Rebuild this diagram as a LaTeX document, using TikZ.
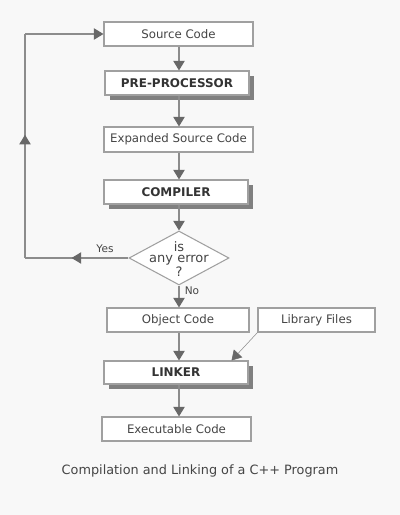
\documentclass[tikz,border=0pt]{standalone}
\usepackage{fontspec}
\setmainfont{DejaVu Sans}
\usetikzlibrary{arrows.meta,shapes.geometric,shadows,decorations.markings}
\definecolor{bgcol}{HTML}{F8F8F8}
\definecolor{edgecol}{HTML}{A0A0A0}
\definecolor{linecol}{HTML}{8C8C8C}
\definecolor{arrcol}{HTML}{686868}
\definecolor{txtcol}{HTML}{454545}
\definecolor{shdcol}{HTML}{808080}
\tikzset{
	box/.style={draw=edgecol, fill=white, line width=0.6pt, minimum width=2.98cm, minimum height=0.48cm, inner sep=0pt, text=txtcol, font=\fontsize{6.7}{8}\selectfont},
	stage/.style={box, minimum width=2.88cm, text=black!80, font=\fontsize{6.8}{8}\selectfont\bfseries, drop shadow={shadow xshift=0.1cm, shadow yshift=-0.1cm, fill=shdcol, opacity=1}},
	decision/.style={diamond, draw=edgecol, fill=white, line width=0.6pt, minimum width=2cm, minimum height=1.08cm, inner sep=0pt},
	flow/.style={draw=linecol, line width=0.6pt, -{Triangle[width=6.5pt,length=5.5pt,color=arrcol]}},
	midflow/.style={draw=linecol, line width=0.6pt, postaction={decorate}, decoration={markings, mark=at position 0.55 with {\arrow{Triangle[width=6.5pt,length=5.5pt,color=arrcol]}}}},
	note/.style={text=txtcol, font=\fontsize{6}{7}\selectfont},
}
\begin{document}
\begin{tikzpicture}
			%%%%% START %%%%%
			
			\fill[bgcol] (0, 0) rectangle (8, 10.3);
			\useasboundingbox (0, 0) rectangle (8, 10.3);
			
			\node[box] (src) at (3.57, 9.62) {Source Code};
			\node[stage] (pre) at (3.54, 8.64) {PRE-PROCESSOR};
			\node[box, minimum height=0.5cm] (exp) at (3.57, 7.51) {Expanded Source Code};
			\node[stage] (comp) at (3.52, 6.46) {COMPILER};
			
			\node[decision] (err) at (3.58, 5.14) {};
			\node[align=center, text=txtcol, font=\fontsize{7.4}{6.6}\selectfont] (errtxt) at (3.58, 5.12) {is\\any error\\?};
			
			\node[box, minimum width=2.84cm] (obj) at (3.56, 3.90) {Object Code};
			\node[box, minimum width=2.34cm] (lib) at (6.33, 3.90) {Library Files};
			\node[stage, minimum height=0.46cm] (link) at (3.52, 2.85) {LINKER};
			\node[box] (exe) at (3.53, 1.72) {Executable Code};
			
			\node[note] (yes) at (2.1, 5.32) {Yes};
			\node[note] (no) at (3.84, 4.48) {No};
			
			\node[text=txtcol, font=\fontsize{7.3}{9}\selectfont] (cap) at (4.0, 0.88) {Compilation and Linking of a C++ Program};
			
			\coordinate (loopb) at (0.5, 5.14);
			\coordinate (loopt) at (0.5, 9.62);
			
			\draw[flow] (src.south -| 3.58, 0) -- (pre.north -| 3.58, 0);
			\draw[flow] (pre.south -| 3.58, 0) -- (exp.north -| 3.58, 0);
			\draw[flow] (exp.south -| 3.58, 0) -- (comp.north -| 3.58, 0);
			\draw[flow] (comp.south -| 3.58, 0) -- (err.north);
			\draw[flow] (err.south) -- (obj.north -| 3.58, 0);
			\draw[flow] (obj.south -| 3.58, 0) -- (link.north -| 3.58, 0);
			\draw[flow] (link.south -| 3.58, 0) -- (exe.north -| 3.58, 0);
			
			\draw[midflow] (err.west) -- (loopb);
			\draw[midflow] (loopb) -- (loopt);
			\draw[flow] (loopt) -- (src.west);
			
			\draw[flow, line width=0.3pt] (lib.south west) -- ([xshift=-0.34cm]link.north east);
			
			%%%%% END %%%%%
\end{tikzpicture}
\end{document}
